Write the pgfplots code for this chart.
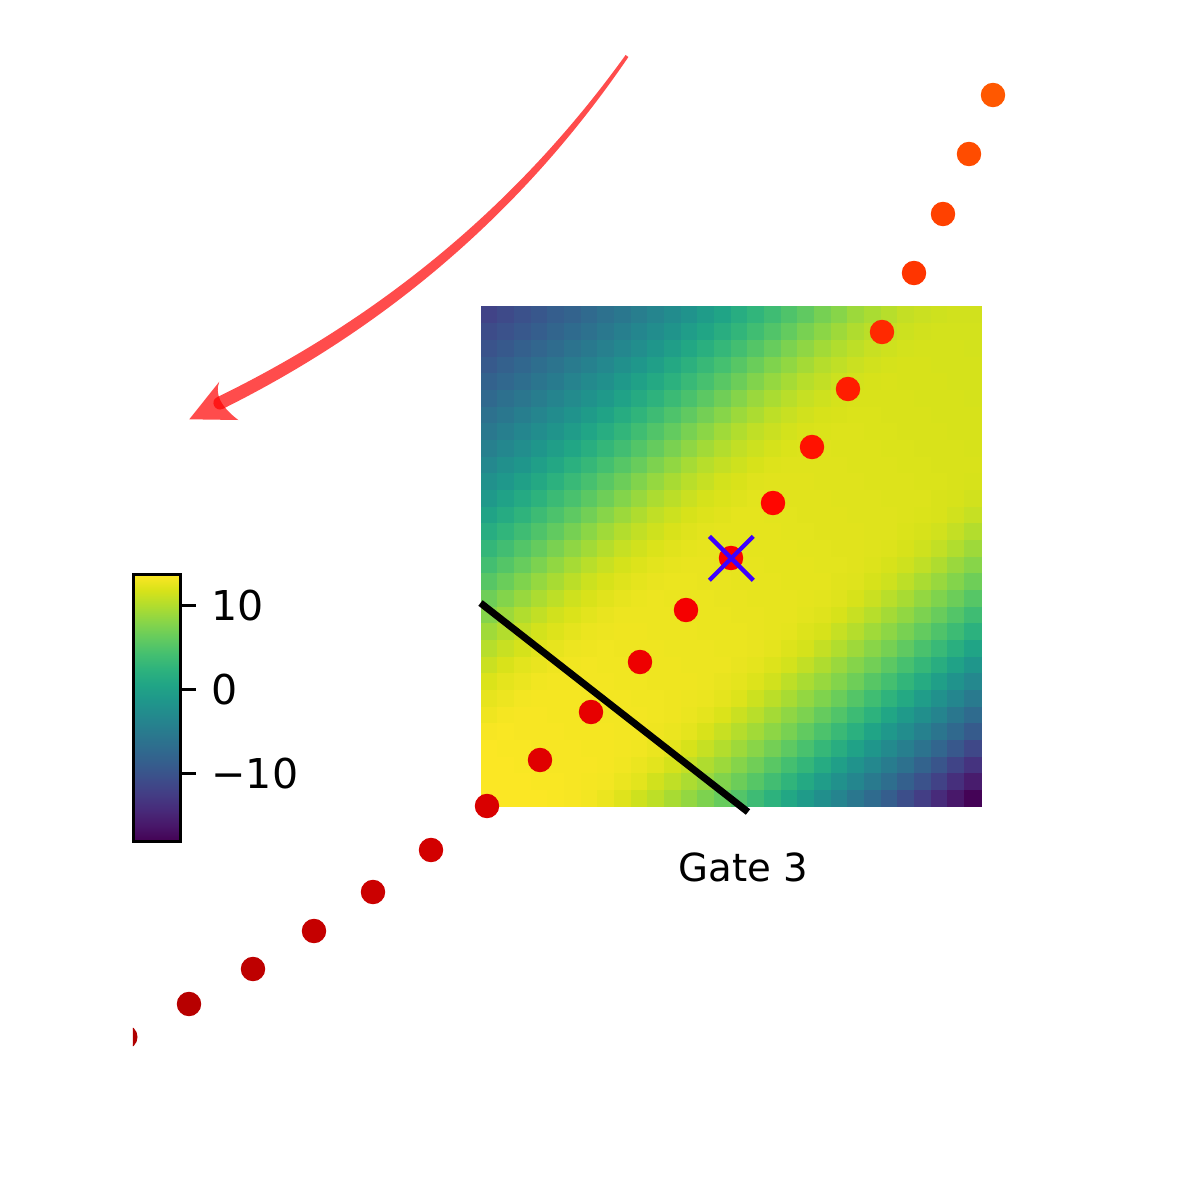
\documentclass[border=0pt]{standalone}
\usepackage{fontspec}
\setmainfont{DejaVu Sans}
\usepackage{pgfplots}
\pgfplotsset{compat=1.18}
\pgfplotsset{
  colormap={dotsmap}{rgb255(0cm)=(176,0,0) rgb255(11.5cm)=(255,0,0) rgb255(19cm)=(255,88,0)},
}
\definecolor{xblue}{RGB}{61,0,255}

\begin{document}
\begin{tikzpicture}
% ---------------- heatmap with colorbar ----------------
\begin{axis}[
  at={(0,0)}, anchor=south west,
  scale only axis, width=50mm, height=50mm,
  xmin=-0.5, xmax=29.5, ymin=-0.5, ymax=29.5,
  hide axis,
  colormap/viridis,
  point meta min=-18.16, point meta max=13.7,
  colorbar,
  colorbar style={
    at={(-37.7mm,-3.55mm)}, anchor=south west,
    scale only axis, width=4.7mm, height=26.7mm,
    ytick={-10,0,10}, yticklabels={−10,0,10},
    ytick pos=right, yticklabel pos=right,
    tick align=outside,
    major tick length=1.5mm,
    tick style={black, line width=0.3mm},
    axis line style={line width=0.3mm, black},
    yticklabel style={font=\fontsize{11.7}{14}\selectfont, xshift=0.3mm},
  },
]
\addplot[scatter, only marks, mark=square*, mark size=0.8333mm, point meta=explicit,
  scatter/use mapped color={draw=mapped color, fill=mapped color},
  mark options={line width=0.08mm}]
  table[row sep=\\, header=false,
        x expr={\coordindex-30*floor(\coordindex/30+0.01)},
        y expr={floor(\coordindex/30+0.01)}, meta index=0] {
13.7\\13.6\\13.6\\13.6\\13.5\\13.4\\13.2\\12.8\\12.2\\11.4\\10.6\\9.6\\8.6\\7.5\\6.3\\5.1\\3.7\\2.3\\0.8\\-0.8\\-2.4\\-3.9\\-5.5\\-7.1\\-8.8\\-10.6\\-12.4\\-14.3\\-16.2\\-18.0\\
13.6\\13.6\\13.6\\13.5\\13.5\\13.4\\13.3\\13.2\\12.8\\12.4\\11.5\\10.7\\9.8\\8.8\\7.7\\6.6\\5.3\\4.0\\2.6\\1.1\\-0.5\\-2.1\\-3.6\\-5.2\\-6.8\\-8.5\\-10.2\\-12.0\\-13.9\\-15.8\\
13.6\\13.6\\13.5\\13.5\\13.4\\13.4\\13.4\\13.3\\13.1\\12.8\\12.4\\11.7\\10.9\\9.9\\9.0\\7.9\\6.8\\5.5\\4.2\\2.9\\1.4\\-0.2\\-1.8\\-3.3\\-4.9\\-6.4\\-8.1\\-9.8\\-11.7\\-13.5\\
13.6\\13.5\\13.5\\13.4\\13.4\\13.4\\13.3\\13.3\\13.2\\13.1\\12.8\\12.4\\11.8\\11.0\\10.1\\9.1\\8.1\\7.0\\5.8\\4.5\\3.1\\1.7\\0.1\\-1.5\\-3.0\\-4.5\\-6.1\\-7.8\\-9.5\\-11.3\\
13.4\\13.5\\13.4\\13.4\\13.4\\13.3\\13.3\\13.3\\13.2\\13.2\\13.0\\12.8\\12.5\\11.9\\11.1\\10.2\\9.3\\8.3\\7.2\\6.0\\4.7\\3.4\\2.0\\0.4\\-1.2\\-2.7\\-4.2\\-5.8\\-7.4\\-9.1\\
13.0\\13.3\\13.4\\13.4\\13.3\\13.3\\13.3\\13.2\\13.2\\13.2\\13.1\\13.0\\12.8\\12.5\\12.0\\11.2\\10.4\\9.4\\8.4\\7.4\\6.2\\5.0\\3.6\\2.3\\0.7\\-0.9\\-2.4\\-3.9\\-5.5\\-7.1\\
12.6\\12.9\\13.2\\13.3\\13.3\\13.3\\13.2\\13.2\\13.2\\13.1\\13.1\\13.0\\12.9\\12.8\\12.5\\12.1\\11.3\\10.5\\9.6\\8.6\\7.6\\6.5\\5.2\\3.9\\2.5\\1.1\\-0.5\\-2.1\\-3.6\\-5.2\\
12.0\\12.5\\12.8\\13.1\\13.2\\13.2\\13.2\\13.2\\13.1\\13.1\\13.0\\13.0\\13.0\\12.9\\12.7\\12.5\\12.1\\11.5\\10.6\\9.7\\8.8\\7.8\\6.7\\5.4\\4.2\\2.8\\1.4\\-0.2\\-1.8\\-3.3\\
11.2\\11.9\\12.4\\12.7\\13.0\\13.1\\13.2\\13.1\\13.1\\13.0\\13.0\\13.0\\12.9\\12.9\\12.9\\12.7\\12.5\\12.1\\11.6\\10.8\\9.9\\8.9\\7.9\\6.9\\5.7\\4.4\\3.1\\1.7\\0.1\\-1.5\\
10.3\\11.1\\11.7\\12.3\\12.6\\12.9\\13.0\\13.1\\13.0\\13.0\\13.0\\12.9\\12.9\\12.9\\12.8\\12.8\\12.7\\12.5\\12.1\\11.7\\10.9\\10.0\\9.1\\8.1\\7.1\\5.9\\4.6\\3.3\\1.9\\0.4\\
9.2\\10.1\\10.9\\11.6\\12.1\\12.5\\12.8\\12.9\\13.0\\13.0\\12.9\\12.9\\12.9\\12.8\\12.8\\12.8\\12.7\\12.6\\12.5\\12.1\\11.8\\11.0\\10.2\\9.2\\8.3\\7.2\\6.1\\4.9\\3.6\\2.2\\
7.9\\9.0\\10.0\\10.8\\11.5\\12.0\\12.4\\12.7\\12.9\\12.9\\12.9\\12.9\\12.8\\12.8\\12.8\\12.7\\12.7\\12.6\\12.6\\12.4\\12.2\\11.8\\11.1\\10.3\\9.4\\8.5\\7.4\\6.4\\5.1\\3.8\\
6.7\\7.8\\8.8\\9.8\\10.6\\11.4\\11.9\\12.3\\12.6\\12.8\\12.9\\12.8\\12.8\\12.8\\12.7\\12.7\\12.6\\12.6\\12.6\\12.5\\12.4\\12.2\\11.8\\11.2\\10.4\\9.6\\8.6\\7.6\\6.6\\5.3\\
5.4\\6.5\\7.6\\8.7\\9.6\\10.5\\11.3\\11.8\\12.2\\12.5\\12.7\\12.8\\12.8\\12.7\\12.7\\12.6\\12.6\\12.6\\12.5\\12.5\\12.5\\12.3\\12.2\\11.8\\11.4\\10.6\\9.7\\8.8\\7.8\\6.7\\
4.1\\5.2\\6.3\\7.4\\8.5\\9.5\\10.4\\11.1\\11.7\\12.1\\12.4\\12.6\\12.7\\12.7\\12.6\\12.6\\12.6\\12.5\\12.5\\12.5\\12.4\\12.4\\12.3\\12.1\\11.8\\11.4\\10.7\\9.9\\8.9\\8.0\\
2.9\\4.0\\5.1\\6.2\\7.3\\8.4\\9.3\\10.2\\11.0\\11.5\\12.0\\12.3\\12.5\\12.6\\12.6\\12.6\\12.5\\12.5\\12.5\\12.4\\12.4\\12.3\\12.3\\12.2\\12.1\\11.8\\11.4\\10.8\\10.0\\9.1\\
1.6\\2.7\\3.8\\4.9\\6.0\\7.1\\8.2\\9.2\\10.1\\10.8\\11.4\\11.9\\12.2\\12.4\\12.5\\12.5\\12.5\\12.5\\12.4\\12.4\\12.3\\12.3\\12.3\\12.2\\12.2\\12.0\\11.8\\11.5\\10.9\\10.1\\
0.3\\1.4\\2.5\\3.6\\4.7\\5.8\\6.9\\8.0\\9.0\\9.9\\10.7\\11.3\\11.8\\12.1\\12.3\\12.5\\12.5\\12.4\\12.4\\12.3\\12.3\\12.3\\12.2\\12.2\\12.2\\12.1\\12.0\\11.9\\11.5\\11.0\\
-1.0\\0.1\\1.2\\2.3\\3.5\\4.5\\5.6\\6.7\\7.8\\8.8\\9.8\\10.5\\11.2\\11.7\\12.0\\12.2\\12.4\\12.4\\12.3\\12.3\\12.3\\12.2\\12.2\\12.2\\12.1\\12.1\\12.1\\11.9\\11.8\\11.5\\
-2.1\\-1.2\\-0.1\\1.0\\2.2\\3.3\\4.4\\5.5\\6.6\\7.7\\8.7\\9.6\\10.4\\11.0\\11.6\\11.9\\12.2\\12.3\\12.3\\12.3\\12.2\\12.2\\12.2\\12.1\\12.1\\12.1\\12.0\\12.0\\11.9\\11.8\\
-3.3\\-2.3\\-1.4\\-0.3\\0.9\\2.0\\3.1\\4.2\\5.3\\6.4\\7.5\\8.5\\9.5\\10.3\\10.9\\11.4\\11.8\\12.1\\12.2\\12.2\\12.2\\12.2\\12.1\\12.1\\12.1\\12.0\\12.0\\11.9\\11.9\\11.9\\
-4.4\\-3.4\\-2.5\\-1.5\\-0.4\\0.7\\1.8\\2.9\\4.0\\5.1\\6.2\\7.3\\8.4\\9.3\\10.1\\10.8\\11.3\\11.7\\12.0\\12.1\\12.2\\12.1\\12.1\\12.1\\12.0\\12.0\\11.9\\11.9\\11.9\\11.8\\
-5.4\\-4.5\\-3.6\\-2.6\\-1.7\\-0.6\\0.5\\1.6\\2.8\\3.9\\5.0\\6.1\\7.2\\8.2\\9.2\\10.0\\10.7\\11.2\\11.6\\11.9\\12.0\\12.1\\12.1\\12.0\\12.0\\11.9\\11.9\\11.9\\11.8\\11.8\\
-6.4\\-5.5\\-4.6\\-3.7\\-2.8\\-1.8\\-0.8\\0.3\\1.5\\2.6\\3.7\\4.8\\5.9\\7.0\\8.0\\9.0\\9.8\\10.6\\11.1\\11.5\\11.8\\11.9\\12.0\\12.0\\11.9\\11.9\\11.9\\11.8\\11.8\\11.8\\
-7.4\\-6.5\\-5.7\\-4.8\\-3.9\\-2.9\\-2.0\\-1.0\\0.2\\1.3\\2.4\\3.5\\4.6\\5.7\\6.8\\7.9\\8.9\\9.7\\10.4\\11.0\\11.4\\11.7\\11.9\\11.9\\11.9\\11.9\\11.8\\11.8\\11.8\\11.7\\
-8.3\\-7.5\\-6.7\\-5.8\\-5.0\\-4.0\\-3.1\\-2.2\\-1.1\\0.0\\1.1\\2.2\\3.3\\4.4\\5.5\\6.6\\7.7\\8.7\\9.5\\10.3\\10.8\\11.3\\11.6\\11.8\\11.9\\11.8\\11.8\\11.8\\11.7\\11.7\\
-9.2\\-8.4\\-7.6\\-6.8\\-6.0\\-5.1\\-4.2\\-3.3\\-2.3\\-1.3\\-0.2\\1.0\\2.1\\3.2\\4.3\\5.4\\6.5\\7.6\\8.5\\9.4\\10.2\\10.7\\11.2\\11.5\\11.7\\11.8\\11.8\\11.7\\11.7\\11.7\\
-10.1\\-9.3\\-8.5\\-7.8\\-7.0\\-6.1\\-5.3\\-4.4\\-3.4\\-2.5\\-1.5\\-0.4\\0.8\\1.9\\3.0\\4.1\\5.2\\6.3\\7.4\\8.4\\9.3\\10.0\\10.6\\11.1\\11.4\\11.6\\11.7\\11.7\\11.7\\11.6\\
-10.9\\-10.2\\-9.5\\-8.7\\-7.9\\-7.1\\-6.3\\-5.4\\-4.5\\-3.6\\-2.6\\-1.7\\-0.5\\0.6\\1.7\\2.8\\3.9\\5.0\\6.1\\7.2\\8.2\\9.1\\9.9\\10.5\\11.0\\11.3\\11.5\\11.6\\11.6\\11.6\\
-11.8\\-11.1\\-10.3\\-9.6\\-8.8\\-8.1\\-7.3\\-6.4\\-5.6\\-4.7\\-3.7\\-2.8\\-1.8\\-0.7\\0.4\\1.6\\2.7\\3.8\\4.9\\5.9\\7.1\\8.0\\9.0\\9.7\\10.3\\10.9\\11.2\\11.4\\11.5\\11.5\\
};
\end{axis}

% ---------------- overlay: dots, line, cross, label (clipped at the left like the reference) ----------------
\begin{scope}
\clip (-34.8mm,-39.4mm) rectangle (71.9mm,80.6mm);
\begin{axis}[
  at={(-48.1mm,-39.4mm)}, anchor=south west,
  scale only axis, width=120mm, height=120mm,
  xmin=-29.36, xmax=42.64, ymin=-24.14, ymax=47.86,
  hide axis, clip=false,
  colormap name=dotsmap, point meta min=0, point meta max=19,
]
\addplot[black, line width=0.7mm, line cap=butt] coordinates {(-0.53,11.68) (15.52,-0.86)};
\addplot[scatter, only marks, mark=*, mark size=1.15mm, point meta=explicit,
  scatter/use mapped color={draw=mapped color, fill=mapped color}]
  table[meta index=2] {
x y c
-21.84 -14.36 0
-18.02 -12.38 1
-14.18 -10.28 2
-10.52 -8.00 3
-6.98 -5.66 4
-3.50 -3.14 5
-0.14 -0.50 6
3.04 2.26 7
6.10 5.14 8
9.04 8.14 9
11.80 11.26 10
14.50 14.38 11
17.02 17.68 12
19.36 21.04 13
21.52 24.52 14
23.56 27.94 15
25.48 31.48 16
27.22 35.02 17
28.78 38.62 18
30.22 42.16 19
};
\addplot[only marks, mark=x, mark size=3.1mm, mark options={draw=xblue, line width=0.43mm}] coordinates {(14.52,14.36)};
\node[anchor=base, font=\fontsize{11}{13}\selectfont] at (axis cs:15.25,-5.04) {Gate 3};
\end{axis}
\end{scope}

% ---------------- curved arrow (pixel-based annotation) ----------------
\begin{scope}[shift={(-48.1mm,80.6mm)}, x=0.1mm, y=-0.1mm]
\fill[red, opacity=0.7] (625.6,55.0) .. controls (519.5,202.3) and (383.4,316.3) .. (217.1,397.2)
   .. controls (209.3,401.0) and (215.1,412.6) .. (222.9,408.8)
   .. controls (390.0,325.7) and (525.1,208.4) .. (628.4,57.0) -- cycle;
\fill[red, opacity=0.7] (219.3,381.7) -- (189.3,419.3) -- (238.3,420.0)
   .. controls (220.8,406.7) and (214.4,393.9) .. (219.3,381.7) -- cycle;
\end{scope}

\pgfresetboundingbox
\path[use as bounding box] (-48.1mm,-39.4mm) rectangle (71.9mm,80.6mm);
\end{tikzpicture}
\end{document}
